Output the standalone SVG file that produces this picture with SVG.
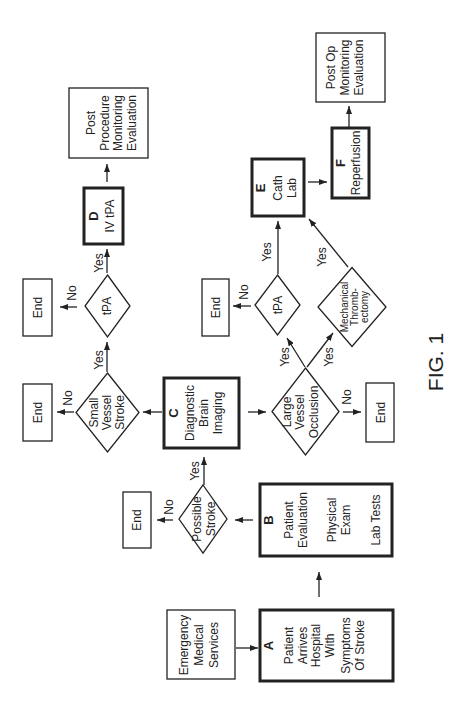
<svg xmlns="http://www.w3.org/2000/svg" width="474" height="707" viewBox="0 0 474 707">
<defs>
<marker id="ah" markerUnits="userSpaceOnUse" viewBox="0 0 8 6" markerWidth="8" markerHeight="6" refX="8" refY="3" orient="auto">
<path d="M0,0 L8,3 L0,6 z" fill="#222"/>
</marker>
<style>
.thin{fill:#fff;stroke:#222;stroke-width:1.3}
.thick{fill:#fff;stroke:#222;stroke-width:3}
.dia{fill:#fff;stroke:#222;stroke-width:1.3}
.t{font-family:"Liberation Sans",Arial,sans-serif;font-size:12px;fill:#222;text-anchor:middle}
.b{font-weight:bold;font-size:13px}
.s{font-size:10px}
.lbl{font-family:"Liberation Sans",Arial,sans-serif;font-size:12px;fill:#222;text-anchor:middle}
.fig{font-family:"Liberation Sans",Arial,sans-serif;font-size:21px;fill:#222;text-anchor:middle}
.c{fill:none;stroke:#222;stroke-width:1.3;marker-end:url(#ah)}
</style>
</defs>
<rect width="474" height="707" fill="#fff"/>

<g id="connectors">
<line class="c" x1="236" y1="648" x2="258" y2="648"/>
<line class="c" x1="319" y1="597" x2="319" y2="572"/>
<line class="c" x1="253" y1="520" x2="235" y2="520"/>
<line class="c" x1="173" y1="520" x2="157" y2="520"/>
<line class="c" x1="204" y1="485" x2="204" y2="457"/>
<line class="c" x1="162" y1="412" x2="143" y2="412"/>
<line class="c" x1="248" y1="412" x2="266" y2="412"/>
<line class="c" x1="74" y1="412" x2="57" y2="412"/>
<line class="c" x1="107" y1="372" x2="107" y2="342"/>
<line class="c" x1="77" y1="307" x2="60" y2="307"/>
<line class="c" x1="107" y1="273" x2="107" y2="249"/>
<line class="c" x1="107" y1="182" x2="107" y2="164"/>
<line class="c" x1="343" y1="412" x2="361" y2="412"/>
<line class="c" x1="305" y1="367" x2="287" y2="338"/>
<line class="c" x1="307" y1="367" x2="333" y2="333"/>
<line class="c" x1="251" y1="306" x2="233" y2="306"/>
<line class="c" x1="278" y1="274" x2="278" y2="221"/>
<line class="c" x1="348" y1="267" x2="309" y2="219"/>
<line class="c" x1="308" y1="182" x2="327" y2="182"/>
<line class="c" x1="349" y1="127" x2="349" y2="106"/>
<g transform="rotate(-90)">
<text class="lbl" x="-471" y="199">Yes</text>
<text class="lbl" x="-507" y="173">No</text>
<text class="lbl" x="-398" y="72">No</text>
<text class="lbl" x="-360" y="103">Yes</text>
<text class="lbl" x="-293" y="76">No</text>
<text class="lbl" x="-263" y="103">Yes</text>
<text class="lbl" x="-397" y="351">No</text>
<text class="lbl" x="-357" y="289">Yes</text>
<text class="lbl" x="-357" y="333">Yes</text>
<text class="lbl" x="-292" y="248">No</text>
<text class="lbl" x="-252" y="271">Yes</text>
<text class="lbl" x="-257" y="326">Yes</text>
</g>
</g>

<g id="ems">
<rect class="thin" x="167" y="610" width="68" height="69"/>
<g transform="rotate(-90)">
<text class="t" x="-645" y="188">Emergency</text>
<text class="t" x="-645" y="203">Medical</text>
<text class="t" x="-645" y="218">Services</text>
</g>
</g>

<g id="nodeA">
<rect class="thick" x="260" y="610" width="133" height="71"/>
<g transform="rotate(-90)">
<text class="t b" x="-645.5" y="273">A</text>
<text class="t" x="-645.5" y="293">Patient</text>
<text class="t" x="-645.5" y="306.5">Arrives</text>
<text class="t" x="-645.5" y="320">Hospital</text>
<text class="t" x="-645.5" y="333.5">With</text>
<text class="t" x="-645.5" y="350">Symptoms</text>
<text class="t" x="-645.5" y="363.5">Of Stroke</text>
</g>
</g>

<g id="nodeB">
<rect class="thick" x="260" y="484" width="132" height="72"/>
<g transform="rotate(-90)">
<text class="t b" x="-520" y="273">B</text>
<text class="t" x="-520" y="293">Patient</text>
<text class="t" x="-520" y="307">Evaluation</text>
<text class="t" x="-520" y="336">Physical</text>
<text class="t" x="-520" y="350">Exam</text>
<text class="t" x="-520" y="380">Lab Tests</text>
</g>
</g>

<g id="possibleStroke">
<polygon class="dia" points="203,485 227,519 203,553 179,519"/>
<g transform="rotate(-90)">
<text class="t" x="-519" y="201">Possible</text>
<text class="t" x="-519" y="215">Stroke</text>
</g>
</g>

<g id="endPS">
<rect class="thin" x="123" y="492" width="28" height="56"/>
<text class="t" transform="rotate(-90)" x="-520" y="141">End</text>
</g>

<g id="nodeC">
<rect class="thick" x="164" y="378" width="75" height="70"/>
<g transform="rotate(-90)">
<text class="t b" x="-413" y="178">C</text>
<text class="t" x="-413" y="194">Diagnostic</text>
<text class="t" x="-413" y="208">Brain</text>
<text class="t" x="-413" y="222">Imaging</text>
</g>
</g>

<g id="smallVessel">
<polygon class="dia" points="107.5,373 139,412.5 107.5,452 76,412.5"/>
<g transform="rotate(-90)">
<text class="t" x="-412.5" y="98">Small</text>
<text class="t" x="-412.5" y="111">Vessel</text>
<text class="t" x="-412.5" y="124">Stroke</text>
</g>
</g>

<g id="endSVS">
<rect class="thin" x="23" y="384" width="29" height="57"/>
<text class="t" transform="rotate(-90)" x="-412.5" y="41.5">End</text>
</g>

<g id="tpaUpper">
<polygon class="dia" points="107.5,275 130,306 107.5,337 85,306"/>
<text class="t" transform="rotate(-90)" x="-306" y="111">tPA</text>
</g>

<g id="endTpaUpper">
<rect class="thin" x="23" y="279" width="29" height="57"/>
<text class="t" transform="rotate(-90)" x="-307.5" y="41.5">End</text>
</g>

<g id="nodeD">
<rect class="thick" x="84" y="188" width="39" height="56"/>
<g transform="rotate(-90)">
<text class="t b" x="-216" y="98">D</text>
<text class="t" x="-216" y="114">IV tPA</text>
</g>
</g>

<g id="postProcedure">
<rect class="thin" x="69" y="88" width="79" height="70"/>
<g transform="rotate(-90)">
<text class="t" x="-123" y="95">Post</text>
<text class="t" x="-123" y="108.5">Procedure</text>
<text class="t" x="-123" y="122">Monitoring</text>
<text class="t" x="-123" y="135.5">Evaluation</text>
</g>
</g>

<g id="lvo">
<polygon class="dia" points="305.5,368 339,411.5 305.5,455 272,411.5"/>
<g transform="rotate(-90)">
<text class="t" x="-412" y="291">Large</text>
<text class="t" x="-412" y="304">Vessel</text>
<text class="t" x="-412" y="318">Occlusion</text>
</g>
</g>

<g id="endLVO">
<rect class="thin" x="366" y="383" width="28" height="59"/>
<text class="t" transform="rotate(-90)" x="-412.5" y="384.5">End</text>
</g>

<g id="tpaLower">
<polygon class="dia" points="277.5,275 300,305 277.5,335 255,305"/>
<text class="t" transform="rotate(-90)" x="-305" y="282">tPA</text>
</g>

<g id="endTpaLower">
<rect class="thin" x="202" y="279" width="27" height="57"/>
<text class="t" transform="rotate(-90)" x="-307.5" y="220">End</text>
</g>

<g id="mechThromb">
<polygon class="dia" points="352,267.5 386,307 352,346.5 318,307"/>
<g transform="rotate(-90)">
<text class="t s" x="-307" y="348">Mechanical</text>
<text class="t s" x="-307" y="358">Thromb-</text>
<text class="t s" x="-307" y="368">ectomy</text>
</g>
</g>

<g id="nodeE">
<rect class="thick" x="252" y="159" width="52" height="57"/>
<g transform="rotate(-90)">
<text class="t b" x="-188" y="265">E</text>
<text class="t" x="-188" y="282">Cath</text>
<text class="t" x="-188" y="296">Lab</text>
</g>
</g>

<g id="nodeF">
<rect class="thick" x="332" y="128" width="37" height="70"/>
<g transform="rotate(-90)">
<text class="t b" x="-163" y="345">F</text>
<text class="t" x="-163" y="360">Reperfusion</text>
</g>
</g>

<g id="postOp">
<rect class="thin" x="316" y="33" width="69" height="69"/>
<g transform="rotate(-90)">
<text class="t" x="-67.5" y="335">Post Op</text>
<text class="t" x="-67.5" y="349">Monitoring</text>
<text class="t" x="-67.5" y="363">Evaluation</text>
</g>
</g>

<text class="fig" transform="rotate(-90)" x="-362" y="443">FIG. 1</text>
</svg>
